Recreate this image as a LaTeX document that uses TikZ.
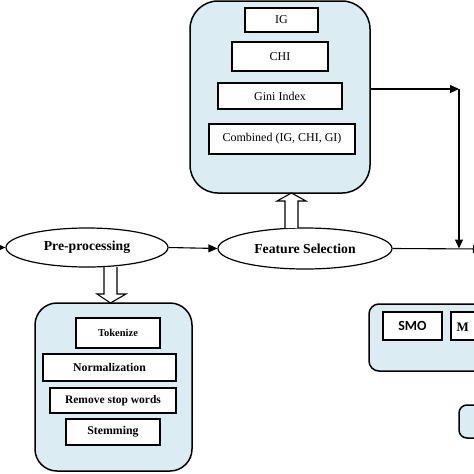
\documentclass[tikz,border=0pt]{standalone}
\usepackage{fontspec}
\setmainfont{Liberation Serif}
\newfontfamily\sansb{Carlito}
\usetikzlibrary{shapes.geometric,arrows.meta}
\definecolor{lblue}{RGB}{219,236,243}
\tikzset{
  panel/.style={draw=black, line width=1.5pt, fill=lblue, inner sep=0pt},
  item/.style={draw=black, line width=1.6pt, fill=white, inner sep=0pt},
  stage/.style={draw=black, line width=1.2pt, fill=white, ellipse, inner sep=0pt, font=\fontsize{13.7}{15}\selectfont\bfseries},
  conn/.style={line width=1.1pt, -{Triangle[length=9pt,width=8pt]}},
  block/.style={draw=black, line width=1.1pt, fill=white, line join=miter},
}
\begin{document}
\begin{tikzpicture}[x=1pt,y=-1pt]
\useasboundingbox (0,0) rectangle (474,474);
% top panel
\node[panel, rounded corners=28pt, minimum width=180pt, minimum height=192pt] (top) at (280,97) {};
\node[item, minimum width=73pt, minimum height=24pt, font=\fontsize{12}{14}\selectfont] (ig) at (281.5,20) {IG};
\node[item, minimum width=96pt, minimum height=29pt, font=\fontsize{12}{14}\selectfont] (chi) at (280,56.5) {CHI};
\node[item, minimum width=124pt, minimum height=26pt, font=\fontsize{12}{14}\selectfont] (gini) at (280,96) {Gini Index};
\node[item, minimum width=146pt, minimum height=30pt, font=\fontsize{12}{14}\selectfont] (comb) at (282,139) {Combined (IG, CHI, GI)};
% left panel
\node[panel, rounded corners=22pt, minimum width=157pt, minimum height=168pt] (left) at (113.5,387) {};
\node[item, minimum width=84pt, minimum height=30pt, font=\fontsize{10.5}{12}\selectfont\bfseries] (tok) at (118,333) {Tokenize};
\node[item, minimum width=133pt, minimum height=27pt, font=\fontsize{11.8}{14}\selectfont\bfseries] (norm) at (109.5,367.5) {Normalization};
\node[item, minimum width=126pt, minimum height=25pt, font=\fontsize{11.5}{14}\selectfont\bfseries] (rsw) at (113,400.5) {Remove stop words};
\node[item, minimum width=94pt, minimum height=26pt, font=\fontsize{11.8}{14}\selectfont\bfseries] (stem) at (113,432) {Stemming};
% right panels
\node[panel, rounded corners=10pt, minimum width=151pt, minimum height=67pt] (right) at (444.5,337.5) {};
\node[item, minimum width=59pt, minimum height=28pt, font=\sansb\fontsize{14}{16}\selectfont\bfseries] (smo) at (412.5,326) {SMO};
\node[item, minimum width=79pt, minimum height=28pt] (mbox) at (490.5,326) {};
\node[anchor=west, inner sep=0pt, font=\fontsize{13}{15}\selectfont\bfseries] (mtxt) at (456.5,327) {M};
\node[panel, rounded corners=8pt, minimum width=81pt, minimum height=33pt] (small) at (499.5,421.5) {};
% ellipses
\node[stage, minimum width=162pt, minimum height=39pt] (pre) at (87,247.5) {Pre-processing};
\node[stage, minimum width=174pt, minimum height=41pt] (fs) at (305,248.5) {Feature Selection};
% connectors
\coordinate (in) at (-12,247.5);
\coordinate (out) at (482,249);
\coordinate (c1) at (459,89);
\draw[conn] (in) -- (pre.west);
\draw[conn] (pre.east) -- (fs.west);
\draw[conn] (fs.east) -- (out);
\draw[conn] (top.east |- c1) -- (c1);
\draw[conn] (c1) -- (c1 |- fs.east);
% block arrows
\draw[block] (104,267) -- (104,294) -- (97,294) -- (110.5,303) -- (126,294) -- (117,294) -- (117,267);
\draw[block] (285,228) -- (285,201) -- (277,201) -- (291.5,193) -- (306,201) -- (298,201) -- (298,228);
\end{tikzpicture}
\end{document}
